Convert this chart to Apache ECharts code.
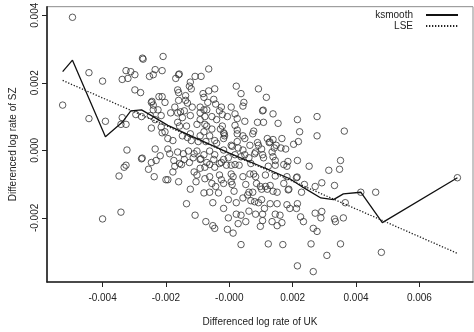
<!DOCTYPE html>
<html>
<head>
<meta charset="utf-8">
<script src="https://cdn.jsdelivr.net/npm/echarts@6/dist/echarts.min.js"></script>
<style>
  html, body { margin: 0; padding: 0; background: #fff; }
  #main { width: 474px; height: 332px; }
</style>
</head>
<body>
<div id="main"></div>
<script>
// Differenced log exchange rates: UK (x) against SZ (y)
const ukDiff = [
  -0.00495, -0.00443, -0.00400, -0.00526, -0.00443, -0.00391, -0.00338, -0.00342, -0.00326, -0.00338,
  -0.00326, -0.00320, -0.00323, -0.00332, -0.00348, -0.00400, -0.00342, -0.00326, -0.00311, -0.00298,
  -0.00274, -0.00272, -0.00298, -0.00280, -0.00252, -0.00240, -0.00234, -0.00212, -0.00209, -0.00222,
  -0.00212, -0.00246, -0.00244, -0.00240, -0.00203, -0.00240, -0.00225, -0.00295, -0.00277, -0.00249,
  -0.00234, -0.00215, -0.00246, -0.00215, -0.00212, -0.00234, -0.00218, -0.00277, -0.00275, -0.00246,
  -0.00231, -0.00255, -0.00237, -0.00200, -0.00194, -0.00178, -0.00203, -0.00194, -0.00188, -0.00194,
  -0.00178, -0.00185, -0.00163, -0.00169, -0.00160, -0.00158, -0.00163, -0.00160, -0.00172, -0.00160,
  -0.00138, -0.00132, -0.00138, -0.00154, -0.00142, -0.00148, -0.00163, -0.00157, -0.00135, -0.00148,
  -0.00132, -0.00120, -0.00163, -0.00145, -0.00129, -0.00175, -0.00157, -0.00142, -0.00126, -0.00123,
  -0.00126, -0.00120, -0.00108, -0.00089, -0.00117, -0.00092, -0.00123, -0.00092, -0.00092, -0.00077,
  -0.00102, -0.00077, -0.00123, -0.00098, -0.00092, -0.00080, -0.00111, -0.00102, -0.00114, -0.00092,
  -0.00090, -0.00080, -0.00151, -0.00172, -0.00092, -0.00077, -0.00111, -0.00102, -0.00160, -0.00123,
  -0.00105, -0.00135, -0.00108, -0.00083, -0.00080, -0.00080, -0.00068, -0.00049, -0.00065, -0.00046,
  -0.00065, -0.00043, -0.00071, -0.00055, -0.00040, -0.00071, -0.00055, -0.00062, -0.00046, -0.00074,
  -0.00071, -0.00049, -0.00062, -0.00046, -0.00062, -0.00046, -0.00080, -0.00062, -0.00077, -0.00062,
  -0.00055, -0.00043, -0.00052, -0.00074, -0.00052, -0.00046, -0.00025, -0.00031, -0.00022, -0.00022,
  -0.00028, -0.00018, -0.00031, -0.00018, -0.00040, -0.00018, -0.00016, -0.00015, -0.00018, -0.00003,
  -0.00025, -0.00009, 0.00006, -0.00031, -0.00025, -0.00018, -0.00034, -0.00018, -0.00003, -0.00003,
  -0.00006, 0.00012, 0.00006, 0.00018, 0.00025, -0.00006, 0.00022, 0.00037, 0.00046, 0.00043,
  0.00018, 0.00025, 0.00025, 0.00043, 0.00006, 0.00025, 0.00009, 0.00028, 0.00018, 0.00037,
  0.00043, 0.00049, 0.00031, 0.00018, 0.00006, 0.00012, 0.00006, 0.00015, 0.00009, 0.00022,
  0.00028, 0.00022, 0.00043, 0.00052, 0.00043, 0.00037, 0.00037, 0.00049, 0.00049, 0.00062,
  0.00065, 0.00068, 0.00092, 0.00117, 0.00105, 0.00107, 0.00138, 0.00089, 0.00108, 0.00154,
  0.00077, 0.00074, 0.00120, 0.00126, 0.00128, 0.00138, 0.00166, 0.00092, 0.00089, 0.00102,
  0.00148, 0.00163, 0.00142, 0.00178, 0.00083, 0.00105, 0.00135, 0.00138, 0.00080, 0.00108,
  0.00145, 0.00123, 0.00145, 0.00172, 0.00065, 0.00077, 0.00083, 0.00114, 0.00145, 0.00086,
  0.00102, 0.00114, 0.00098, 0.00120, 0.00138, 0.00129, 0.00062, 0.00074, 0.00058, 0.00068,
  0.00080, 0.00092, 0.00102, 0.00111, 0.00129, 0.00151, 0.00062, 0.00083, 0.00105, 0.00105,
  0.00098, 0.00052, 0.00123, 0.00135, 0.00145, 0.00160, 0.00151, 0.00166, 0.00169, 0.00151,
  0.00172, 0.00215, 0.00277, 0.00222, 0.00277, 0.00203, 0.00218, 0.00185, 0.00182, 0.00215,
  0.00252, 0.00182, 0.00212, 0.00214, 0.00188, 0.00186, 0.00228, 0.00237, 0.00271, 0.00292,
  0.00182, 0.00191, 0.00215, 0.00212, 0.00225, 0.00234, 0.00265, 0.00277, 0.00271, 0.00292,
  0.00289, 0.00215, 0.00258, 0.00265, 0.00314, 0.00351, 0.00348, 0.00363, 0.00332, 0.00366,
  0.00332, 0.00335, 0.00360, 0.00308, 0.00351, 0.00415, 0.00462, 0.00480, 0.00720
];
const szDiff = [
  0.00394, 0.00230, 0.00205, 0.00134, 0.00094, 0.00086, 0.00097, 0.00077, 0.00077, 0.00210,
  0.00236, 0.00213, 0.00001, -0.00050, -0.00076, -0.00203, -0.00183, -0.00044, 0.00233, 0.00224,
  0.00273, 0.00270, 0.00179, 0.00171, 0.00219, 0.00224, 0.00239, 0.00236, 0.00278, 0.00159,
  0.00159, 0.00142, 0.00145, 0.00134, 0.00142, 0.00120, 0.00120, 0.00106, 0.00100, 0.00103,
  0.00091, 0.00103, 0.00066, 0.00069, 0.00052, 0.00004, -0.00016, -0.00025, -0.00023, -0.00036,
  -0.00030, -0.00056, -0.00078, -0.00087, 0.00035, 0.00029, 0.00055, 0.00004, -0.00010, -0.00087,
  -0.00064, 0.00111, 0.00111, 0.00213, 0.00224, 0.00226, 0.00179, 0.00171, 0.00128, 0.00148,
  0.00148, 0.00140, 0.00162, 0.00114, 0.00117, 0.00097, 0.00083, 0.00072, 0.00072, 0.00043,
  0.00038, 0.00029, -0.00005, -0.00010, -0.00002, -0.00030, -0.00039, -0.00027, -0.00036, 0.00202,
  0.00190, 0.00182, 0.00219, 0.00219, 0.00128, 0.00128, 0.00103, 0.00111, 0.00091, 0.00100,
  0.00077, 0.00077, 0.00049, 0.00026, 0.00043, 0.00055, -0.00010, -0.00002, -0.00022, -0.00027,
  -0.00025, -0.00013, -0.00042, -0.00047, -0.00053, -0.00050, -0.00064, -0.00073, -0.00093, -0.00115,
  -0.00093, -0.00158, -0.00192, 0.00168, 0.00157, 0.00120, 0.00142, 0.00151, 0.00176, 0.00182,
  0.00241, 0.00137, 0.00120, 0.00100, 0.00091, 0.00072, 0.00063, 0.00043, 0.00029, 0.00026,
  -0.00036, -0.00027, -0.00002, -0.00013, -0.00042, -0.00050, -0.00126, -0.00124, -0.00084, -0.00078,
  -0.00098, -0.00107, -0.00155, -0.00211, -0.00223, -0.00231, 0.00128, 0.00117, 0.00106, 0.00072,
  0.00063, 0.00035, -0.00039, -0.00027, 0.00021, 0.00052, 0.00049, 0.00043, 0.00001, -0.00022,
  -0.00036, -0.00044, -0.00044, -0.00073, -0.00087, -0.00098, -0.00126, -0.00172, -0.00146, -0.00200,
  -0.00234, -0.00245, 0.00128, 0.00108, 0.00094, 0.00100, 0.00190, 0.00168, 0.00142, 0.00131,
  0.00074, 0.00060, 0.00049, 0.00043, 0.00015, 0.00026, 0.00012, 0.00007, -0.00013, -0.00019,
  0.00001, -0.00013, -0.00044, -0.00042, -0.00070, -0.00078, -0.00093, -0.00121, -0.00101, -0.00155,
  -0.00217, -0.00189, -0.00078, -0.00101, -0.00141, -0.00192, -0.00279, 0.00086, 0.00035, -0.00022,
  0.00015, -0.00039, 0.00182, 0.00157, 0.00117, 0.00119, 0.00108, 0.00083, 0.00083, 0.00080,
  0.00057, 0.00049, 0.00035, 0.00023, 0.00025, 0.00032, 0.00035, 0.00015, 0.00023, 0.00004,
  0.00015, 0.00007, 0.00007, 0.00004, -0.00005, -0.00013, -0.00005, -0.00019, -0.00010, -0.00022,
  -0.00030, -0.00047, -0.00044, -0.00042, -0.00070, -0.00070, -0.00078, -0.00073, -0.00076, -0.00098,
  -0.00115, -0.00107, -0.00107, -0.00115, -0.00121, -0.00104, -0.00124, -0.00124, -0.00132, -0.00149,
  -0.00152, -0.00155, -0.00146, -0.00172, -0.00158, -0.00158, -0.00180, -0.00189, -0.00189, -0.00208,
  -0.00225, -0.00211, -0.00277, -0.00211, -0.00189, -0.00192, -0.00223, -0.00214, -0.00279, -0.00124,
  -0.00098, 0.00091, 0.00100, 0.00055, 0.00043, 0.00018, 0.00026, -0.00033, -0.00047, -0.00030,
  -0.00047, -0.00078, -0.00081, -0.00079, -0.00115, -0.00117, -0.00124, -0.00101, -0.00107, -0.00096,
  -0.00161, -0.00172, -0.00158, -0.00172, -0.00197, -0.00211, -0.00231, -0.00240, -0.00186, -0.00181,
  -0.00200, -0.00342, -0.00277, -0.00359, -0.00059, -0.00030, -0.00056, 0.00057, -0.00104, -0.00155,
  -0.00203, -0.00211, -0.00200, -0.00311, -0.00277, -0.00124, -0.00124, -0.00302, -0.00081
];

// Kernel smoother (ksmooth) curve
const ksmoothX = [-0.00526, -0.00495, -0.00391, -0.00338, -0.00311, -0.00277, -0.00240, -0.00194,
  -0.00102, 0.00000, 0.00114, 0.00191, 0.00237, 0.00289, 0.00329, 0.00360, 0.00415, 0.00483, 0.00720];
const ksmoothY = [0.00233, 0.00267, 0.00040, 0.00083, 0.00117, 0.00120, 0.00100, 0.00074,
  0.00035, -0.00008, -0.00053, -0.00084, -0.00112, -0.00141, -0.00146, -0.00129, -0.00124, -0.00214, -0.00081];

// Least-squares fit line, drawn across the data range
const lseX = [-0.00526, 0.00720];
const lseY = [0.00207, -0.00305];

// Axis ticks and their printed labels
const xTicks = [-0.004, -0.002, 0.000, 0.002, 0.004, 0.006];
const xTickLabels = ['-0.004', '-0.002', '-0.000', '0.002', '0.004', '0.006'];
const yTicks = [-0.002, 0.000, 0.002, 0.004];
const yTickLabels = ['-0.002', '0.000', '0.002', '0.004'];

// Axis limits
const xMin = -0.005754, xMax = 0.007692;
const yMin = -0.003898, yMax = 0.004254;

const pairs = (xs, ys) => xs.map((x, i) => [x, ys[i]]);
const labelFor = (ticks, labels) => (v) => {
  const i = ticks.findIndex(t => Math.abs(t - v) < 1e-9);
  return i >= 0 ? labels[i] : '';
};

const FONT = 'Liberation Sans, Arial, Helvetica, sans-serif';
const INK = '#222';

const legendBase = {
  orient: 'vertical', align: 'right', right: 10,
  itemWidth: 32, itemHeight: 10, selectedMode: false,
  itemStyle: { opacity: 0 },
  textStyle: { fontFamily: FONT, fontSize: 10, color: INK, padding: [0, 8, 0, 0] }
};

const chart = echarts.init(document.getElementById('main'), null, { renderer: 'canvas' });
chart.setOption({
  animation: false,
  backgroundColor: '#fff',
  textStyle: { fontFamily: FONT },
  grid: {
    left: 36, top: 2, width: 437, height: 288,
    show: true, borderColor: '#8c8c8c', borderWidth: 1, backgroundColor: 'transparent'
  },
  xAxis: {
    type: 'value', min: xMin, max: xMax,
    name: 'Differenced log rate of UK',
    nameLocation: 'middle', nameGap: 35,
    nameTextStyle: { fontFamily: FONT, fontSize: 10, color: INK },
    axisLine: { show: true, onZero: false, lineStyle: { color: INK, width: 1.6 } },
    axisTick: { show: true, inside: false, length: 5, customValues: xTicks, lineStyle: { color: INK, width: 1 } },
    axisLabel: { customValues: xTicks, formatter: labelFor(xTicks, xTickLabels), margin: 11,
      fontFamily: FONT, fontSize: 10, color: INK },
    splitLine: { show: false }
  },
  yAxis: {
    type: 'value', min: yMin, max: yMax,
    name: 'Differenced log rate of SZ',
    nameLocation: 'middle', nameGap: 29, nameRotate: 90,
    nameTextStyle: { fontFamily: FONT, fontSize: 10, color: INK },
    axisLine: { show: true, onZero: false, lineStyle: { color: INK, width: 1.6 } },
    axisTick: { show: true, inside: false, length: 5, customValues: yTicks, lineStyle: { color: INK, width: 1 } },
    axisLabel: { customValues: yTicks, formatter: labelFor(yTicks, yTickLabels), rotate: 90, margin: 7,
      fontFamily: FONT, fontSize: 10, color: INK },
    splitLine: { show: false }
  },
  legend: [
    Object.assign({ data: ['ksmooth'], top: 5 }, legendBase),
    Object.assign({ data: ['LSE'], top: 16 }, legendBase)
  ],
  series: [
    {
      name: 'observations', type: 'scatter',
      data: pairs(ukDiff, szDiff),
      symbol: 'circle', symbolSize: 6.5,
      itemStyle: { color: 'rgba(255,255,255,0)', borderColor: '#333', borderWidth: 1 },
      z: 2, silent: true
    },
    {
      name: 'ksmooth', type: 'line',
      data: pairs(ksmoothX, ksmoothY),
      symbol: 'none', smooth: false,
      lineStyle: { color: '#111', width: 1.3, type: 'solid' },
      itemStyle: { color: '#111' },
      z: 3, silent: true
    },
    {
      name: 'LSE', type: 'line',
      data: pairs(lseX, lseY),
      symbol: 'none',
      lineStyle: { color: '#222', width: 1.3, type: [1.3, 1.7] },
      itemStyle: { color: '#222' },
      z: 3, silent: true
    }
  ]
});
</script>
</body>
</html>
